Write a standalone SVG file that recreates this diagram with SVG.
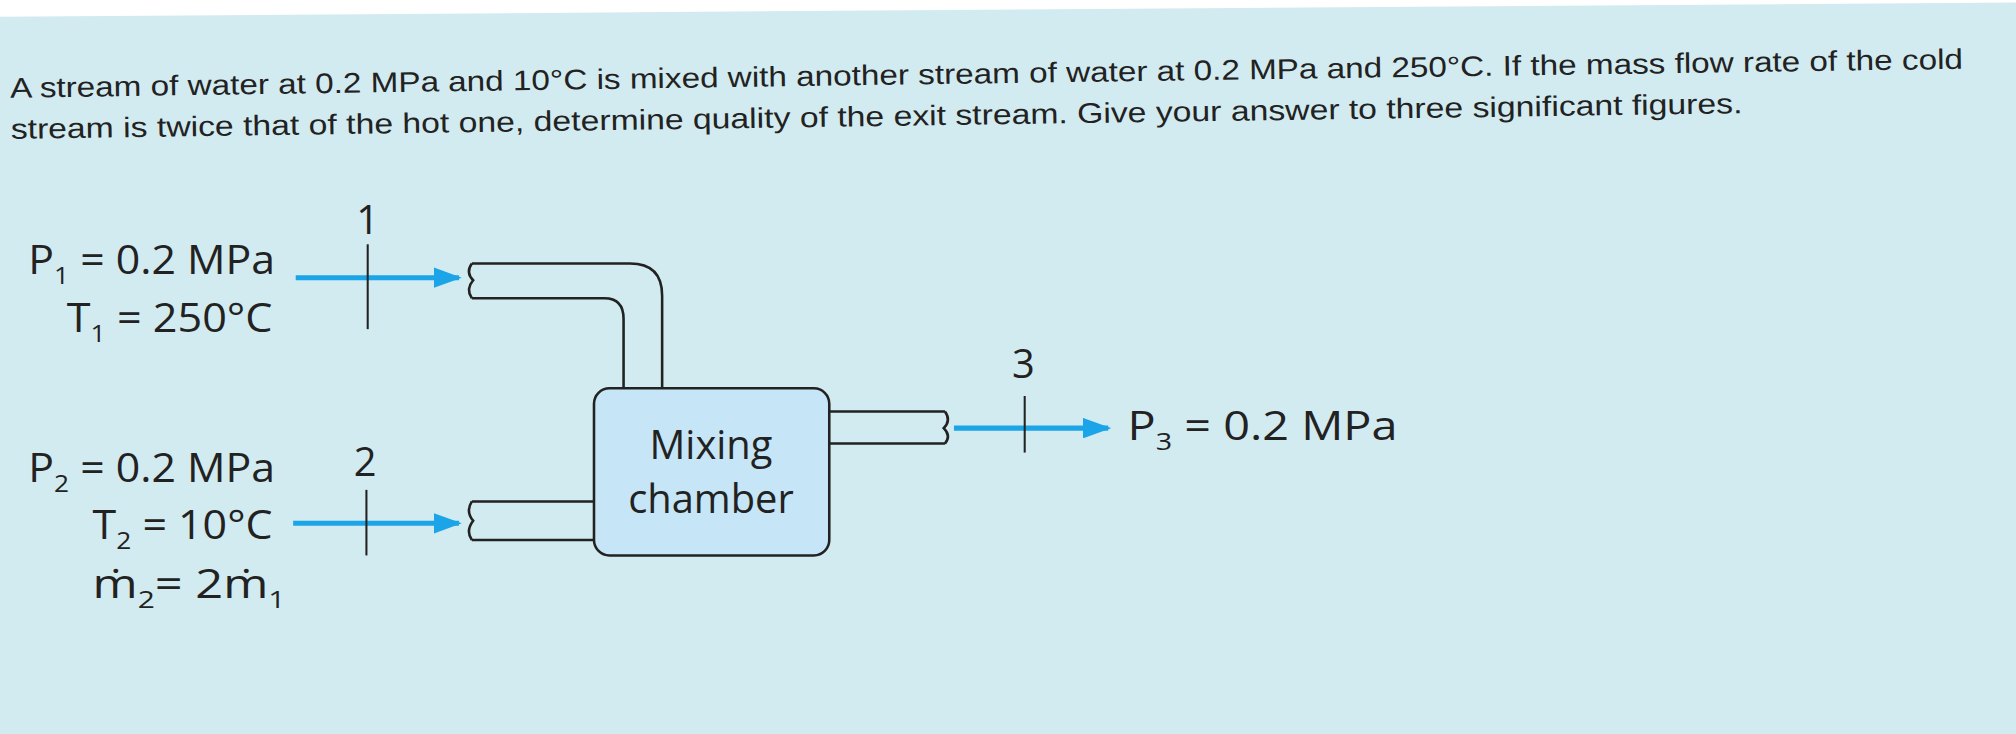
<svg xmlns="http://www.w3.org/2000/svg" width="2016" height="734" viewBox="0 0 2016 734">
<style>
.q{font-family:"Liberation Sans",Arial,sans-serif;font-size:22px;fill:#222}
.d{font-family:"Open Sans","Liberation Sans",sans-serif;font-size:31px;fill:#222}
.s{font-size:19px}
.p{fill:none;stroke:#222;stroke-width:2}
.a{stroke:#1ba5e8;stroke-width:4;fill:none}
.t{stroke:#222;stroke-width:1.6}
</style>
<defs><marker id="ah" viewBox="0 0 10 10" refX="9" refY="5" markerWidth="5.5" markerHeight="4" orient="auto" markerUnits="strokeWidth" preserveAspectRatio="none"><path d="M0,0L10,5L0,10z" fill="#1ba5e8"/></marker></defs>
<rect width="2016" height="734" fill="#d2ebf0"/>
<g transform="scale(1.2857)">
<polygon points="0,0 1568,0 1568,2 0,13" fill="#ffffff"/>
<g id="question" transform="rotate(-0.85 8 75)">
<text class="q" x="8" y="76" textLength="1519" lengthAdjust="spacingAndGlyphs">A stream of water at 0.2 MPa and 10°C is mixed with another stream of water at 0.2 MPa and 250°C. If the mass flow rate of the cold</text>
<text class="q" x="8" y="108" textLength="1347" lengthAdjust="spacingAndGlyphs">stream is twice that of the hot one, determine quality of the exit stream. Give your answer to three significant figures.</text>
</g>
<g id="chamber">
<rect x="462" y="302" width="183" height="130" rx="12" fill="#c6e6f7" stroke="#222" stroke-width="2"/>
<text class="d" x="553" y="357" text-anchor="middle">Mixing</text>
<text class="d" x="553" y="399" text-anchor="middle">chamber</text>
</g>
<g id="pipe1">
<path class="p" d="M367,205H490Q515,205 515,230V302M367,232H470Q485,232 485,248V302"/>
<path class="p" d="M367,205Q362,212 368,218Q362,225 367,232"/>
</g>
<g id="pipe2">
<path class="p" d="M367,390H462M367,420H462M367,390Q362,398 368,405Q362,413 367,420"/>
</g>
<g id="pipe3">
<path class="p" d="M645,320H735M645,345H735M735,320Q740,327 734,333Q740,339 735,345"/>
</g>
<g id="labels1">
<text class="d" x="22" y="213" textLength="192" lengthAdjust="spacingAndGlyphs">P<tspan class="s" dy="8">1</tspan><tspan dy="-8"> = 0.2 MPa</tspan></text>
<text class="d" x="52" y="258" textLength="160" lengthAdjust="spacingAndGlyphs">T<tspan class="s" dy="8">1</tspan><tspan dy="-8"> = 250°C</tspan></text>
<text class="d" x="286" y="182" text-anchor="middle">1</text>
</g>
<g id="labels2">
<text class="d" x="22" y="375" textLength="192" lengthAdjust="spacingAndGlyphs">P<tspan class="s" dy="8">2</tspan><tspan dy="-8"> = 0.2 MPa</tspan></text>
<text class="d" x="72" y="419" textLength="140" lengthAdjust="spacingAndGlyphs">T<tspan class="s" dy="8">2</tspan><tspan dy="-8"> = 10°C</tspan></text>
<text class="d" x="72" y="465" textLength="150" lengthAdjust="spacingAndGlyphs">ṁ<tspan class="s" dy="8">2</tspan><tspan dy="-8">= 2ṁ</tspan><tspan class="s" dy="8">1</tspan></text>
<text class="d" x="284" y="370" text-anchor="middle">2</text>
</g>
<g id="labels3">
<text class="d" x="877" y="342" textLength="210" lengthAdjust="spacingAndGlyphs">P<tspan class="s" dy="8">3</tspan><tspan dy="-8"> = 0.2 MPa</tspan></text>
<text class="d" x="796" y="294" text-anchor="middle">3</text>
</g>
<g id="connectors">
<line class="a" x1="230" y1="216" x2="357" y2="216" marker-end="url(#ah)"/>
<line class="a" x1="228" y1="407" x2="357" y2="407" marker-end="url(#ah)"/>
<line class="a" x1="742" y1="333" x2="862" y2="333" marker-end="url(#ah)"/>
<line class="t" x1="286" y1="190" x2="286" y2="256"/>
<line class="t" x1="285" y1="381" x2="285" y2="432"/>
<line class="t" x1="797" y1="308" x2="797" y2="352"/>
</g>
</g>
</svg>
